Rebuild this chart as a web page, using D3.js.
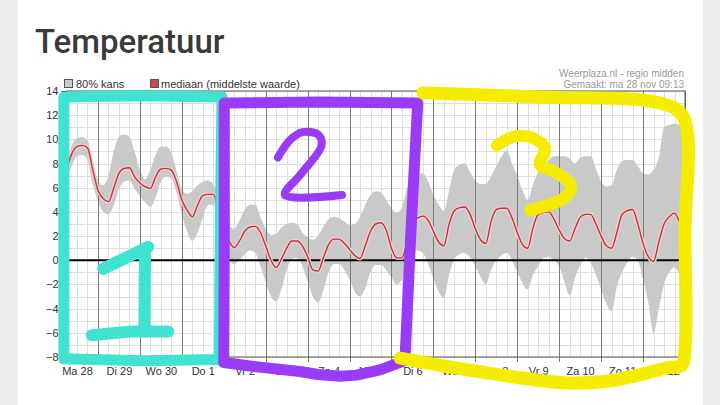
<!DOCTYPE html>
<html><head><meta charset="utf-8">
<script src="https://cdn.jsdelivr.net/npm/d3@7"></script>
<style>html,body{margin:0;padding:0;background:#fff;}svg{display:block;}</style>
</head><body>
<svg id="c" width="720" height="405"></svg>
<script>
// ---- data (hours since Ma 28 00:00, sampled every 3 h) ----
const startHour = 6, stepHours = 3, endHour = 360;
const dayLabels = ["Ma 28","Di 29","Wo 30","Do 1","Vr 2","Za 3","Zo 4","Ma 5","Di 6","Wo 7","Do 8","Vr 9","Za 10","Zo 11","Ma 12"];
const yTicks = [-8,-6,-4,-2,0,2,4,6,8,10,12,14];
const median = [
 7.4,8.8,9.4,9.5,9.3,7.5,
 5.8,5.1,4.85,5.95,7.2,7.6,7.65,6.9,
 6.4,6.1,5.95,6.9,7.55,7.6,7.45,6.5,
 5.0,4.15,3.6,4.55,5.35,5.45,5.45,4.0,
 2.6,1.6,1.05,1.6,2.4,2.75,2.8,2.3,
 1.2,0.0,-0.6,0.1,1.0,1.6,1.6,1.2,
 0.3,-0.8,-0.9,0.2,1.3,1.75,1.75,1.4,
 0.9,0.4,0.15,1.2,2.4,3.0,3.1,2.5,
 1.0,0.2,0.2,1.6,3.3,3.5,3.65,3.3,
 2.4,1.5,1.2,3.0,4.1,4.35,4.4,3.8,
 2.6,1.7,1.4,3.2,4.2,4.3,4.3,3.5,
 2.3,1.3,1.0,2.7,3.8,3.95,4.0,3.4,
 2.5,1.8,1.6,2.6,3.55,3.8,3.8,3.0,
 2.0,1.2,1.0,2.3,3.8,4.1,4.2,3.0,
 1.4,0.3,-0.1,1.5,3.0,3.6,3.9,3.1,2.1];
const upper80 = [
 8.0,9.5,10.1,10.2,9.9,8.3,
 6.6,6.2,7.0,9.0,10.2,10.4,10.2,9.0,
 7.5,6.7,7.5,8.7,9.4,9.4,8.9,7.4,
 5.9,5.5,5.7,6.2,6.5,6.6,6.3,5.3,
 3.7,2.9,2.6,3.3,4.2,4.6,4.6,3.6,
 2.6,2.1,2.2,2.7,3.0,3.1,3.0,2.3,
 1.9,1.7,2.0,2.8,3.4,3.6,3.5,3.2,
 2.9,3.0,3.6,4.6,5.4,5.7,5.6,5.0,
 4.3,3.9,4.4,6.0,6.9,7.1,7.2,6.5,
 5.4,4.6,4.1,5.8,7.5,7.9,8.0,7.3,
 6.6,6.3,6.3,7.0,7.8,8.6,9.1,8.0,
 7.0,5.8,5.0,6.3,7.3,7.8,8.3,8.6,
 8.6,8.6,8.4,8.0,8.5,8.6,8.6,7.6,
 6.5,6.1,6.2,7.5,8.2,8.3,8.3,7.8,
 7.2,7.1,7.5,8.5,11.0,11.2,11.3,11.2,11.0];
const lower80 = [
 6.6,7.8,8.6,8.7,8.3,6.3,
 4.9,4.0,3.8,4.5,5.9,6.5,6.6,5.9,
 5.3,4.8,4.4,5.2,6.5,6.9,6.8,5.6,
 3.8,2.4,1.6,2.3,3.5,4.6,4.6,3.2,
 1.0,0.0,-0.3,0.0,0.5,0.8,0.6,-0.5,
 -1.8,-3.0,-3.4,-2.4,-0.8,0.1,0.2,-0.5,
 -1.8,-3.0,-3.5,-2.5,-1.0,-0.3,-0.3,-0.8,
 -1.6,-2.6,-3.0,-2.3,-1.0,-0.4,-0.4,-0.8,
 -1.4,-2.0,-1.6,-0.5,0.9,0.8,0.6,-0.3,
 -1.5,-2.6,-3.1,-1.2,0.1,0.5,0.6,0.2,
 -0.5,-1.4,-2.0,-0.8,0.0,0.4,0.6,0.0,
 -1.0,-1.9,-2.4,-1.2,-0.5,0.2,0.3,0.0,
 -0.5,-1.8,-2.9,-1.5,-0.4,0.2,-0.2,-1.2,
 -2.4,-3.6,-4.2,-2.2,-1.0,-0.2,0.3,0.0,
 -1.6,-3.5,-6.0,-4.0,-2.0,-1.0,-0.6,-1.2,-2.0];

// hand-drawn highlighter annotations, in [hour, °C] units
const annotCyanBox = [[4.5,13.5],[50,13.6],[95,13.5],[94,2],[93.5,-8.2],[50,-8.3],[4.5,-8.15],[4.5,2]];
const annotCyanOne = [[[27,-0.7],[52.8,1.1]],[[50.9,1.0],[50.6,-5.9]],[[20.4,-6.2],[42,-5.9],[64.3,-5.9]]];
const annotPurpleBox = [[96.3,13.0],[150,13.1],[207,13.0],[203,2],[199.7,-8.3],[185.4,-9.07],[172,-9.5],[162.5,-9.6],[150,-9.45],[139.6,-9.2],[111,-8.75],[96,-8.45],[96.3,2]];
const annotPurpleTwo = [[127,8.5],[134,9.95],[141,10.6],[150,10.4],[152,9.5],[140,7.1],[131,5.4],[163.7,5.4]];
const annotYellowBox = [[210,13.85],[277,13.5],[345.6,13.0],[358.8,11.9],[360,2],[360,-7.4],[358,-8.7],[351,-8.85],[320,-9.9],[294,-10.15],[237,-9.1],[197,-8.1]];
const annotYellowThree = [[252.4,9.5],[261.5,10.2],[271.3,10.2],[279.9,9.3],[277,7.9],[285.6,7.3],[294.8,6.2],[291.3,5.2],[271.3,4.15]];

// ---- drawing ----
const svg = d3.select("#c");
const hours = median.map((_, i) => startHour + i * stepHours);
const rows = hours.map((h, i) => ({h, m: median[i], hi: upper80[i], lo: lower80[i]}));

const pLeft = 66.5, pRight = 685, pTop = 91, pBottom = 357;
const x = d3.scaleLinear().domain([startHour, endHour]).range([pLeft, pRight]);
const y = d3.scaleLinear().domain([-8, 14]).range([pBottom, pTop]);

// page background (phone screenshot card)
svg.append("rect").attr("width", 720).attr("height", 405).attr("fill", "#eeeeee");
svg.append("rect").attr("x", 18).attr("width", 685).attr("height", 405).attr("fill", "#ffffff");

svg.append("text").attr("x", 35).attr("y", 53)
  .attr("font-family", "Roboto, 'Noto Sans', sans-serif").attr("font-weight", 500)
  .attr("font-size", 33).attr("fill", "#3a3a3a").text("Temperatuur");

const font = "'Liberation Sans', Arial, sans-serif";
// legend
svg.append("rect").attr("x", 64.5).attr("y", 79.5).attr("width", 8).attr("height", 8)
  .attr("fill", "#cccccc").attr("stroke", "#555");
svg.append("text").attr("x", 76).attr("y", 87.5).attr("font-family", font).attr("font-size", 11)
  .attr("fill", "#333").text("80% kans");
svg.append("rect").attr("x", 150.5).attr("y", 79.5).attr("width", 8).attr("height", 8)
  .attr("fill", "#c0504d").attr("stroke", "#555");
svg.append("text").attr("x", 161).attr("y", 87.5).attr("font-family", font).attr("font-size", 11)
  .attr("fill", "#333").text("mediaan (middelste waarde)");
svg.append("text").attr("x", 684).attr("y", 77).attr("text-anchor", "end").attr("font-family", font)
  .attr("font-size", 10).attr("fill", "#999").text("Weerplaza.nl - regio midden");
svg.append("text").attr("x", 684).attr("y", 87.5).attr("text-anchor", "end").attr("font-family", font)
  .attr("font-size", 10).attr("fill", "#999").text("Gemaakt: ma 28 nov 09:13");

svg.append("defs").append("clipPath").attr("id", "clip")
  .append("rect").attr("x", pLeft).attr("y", pTop).attr("width", pRight - pLeft).attr("height", pBottom - pTop);

// light grid
const g = svg.append("g");
g.selectAll(".hg").data(d3.range(-8, 15, 1)).join("line")
  .attr("x1", pLeft).attr("x2", pRight).attr("y1", d => Math.round(y(d)) + 0.5).attr("y2", d => Math.round(y(d)) + 0.5)
  .attr("stroke", "#dedede");
const sixH = d3.range(startHour, endHour + 1, 6);
g.selectAll(".vg").data(sixH.filter(h => h % 24 !== 0)).join("line")
  .attr("x1", d => Math.round(x(d)) + 0.5).attr("x2", d => Math.round(x(d)) + 0.5)
  .attr("y1", pTop).attr("y2", pBottom).attr("stroke", "#dedede");

// 80% band
svg.append("g").attr("clip-path", "url(#clip)").append("path").datum(rows)
  .attr("d", d3.area().x(d => x(d.h)).y0(d => y(d.lo)).y1(d => y(d.hi)).curve(d3.curveMonotoneX))
  .attr("fill", "#c9c9c9");

// day lines (midnight)
svg.append("g").selectAll("line").data(sixH.filter(h => h % 24 === 0)).join("line")
  .attr("x1", d => Math.round(x(d)) + 0.5).attr("x2", d => Math.round(x(d)) + 0.5)
  .attr("y1", pTop).attr("y2", pBottom + 5).attr("stroke", "#7a7a7a");

// zero line
svg.append("line").attr("x1", pLeft).attr("x2", pRight).attr("y1", y(0)).attr("y2", y(0))
  .attr("stroke", "#000").attr("stroke-width", 2);

// median
const line = d3.line().x(d => x(d.h)).y(d => y(d.m)).curve(d3.curveMonotoneX);
const ml = svg.append("g").attr("clip-path", "url(#clip)");
ml.append("path").datum(rows).attr("d", line).attr("fill", "none").attr("stroke", "#f6cccc").attr("stroke-width", 4);
ml.append("path").datum(rows).attr("d", line).attr("fill", "none").attr("stroke", "#b23a44").attr("stroke-width", 1.4);

// frame
svg.append("rect").attr("x", pLeft).attr("y", pTop).attr("width", pRight - pLeft).attr("height", pBottom - pTop)
  .attr("fill", "none").attr("stroke", "#555");
svg.append("line").attr("x1", pLeft).attr("x2", pLeft).attr("y1", pTop).attr("y2", pBottom).attr("stroke", "#222");

// y axis
const ya = svg.append("g").attr("transform", `translate(${pLeft},0)`)
  .call(d3.axisLeft(y).tickValues(yTicks).tickSize(5).tickPadding(3));
ya.select(".domain").remove();
ya.selectAll("line").attr("stroke", "#333");
ya.selectAll("text").attr("font-family", font).attr("font-size", 11).attr("fill", "#333");

// x labels at noon
const xa = svg.append("g").attr("transform", `translate(0,${pBottom})`)
  .call(d3.axisBottom(x).tickValues(dayLabels.map((_, i) => i * 24 + 12)).tickFormat((d, i) => dayLabels[i]).tickSize(0).tickPadding(10));
xa.select(".domain").remove();
xa.selectAll("text").attr("font-family", font).attr("font-size", 11).attr("fill", "#333");

// highlighter annotations
const al = d3.line().x(d => x(d[0])).y(d => y(d[1]));
const alc = d3.line().x(d => x(d[0])).y(d => y(d[1])).curve(d3.curveCatmullRom);
function stroke(pts, color, w, closed, curved) {
  svg.append("path").attr("d", (curved ? alc : al)(pts) + (closed ? "Z" : ""))
    .attr("fill", "none").attr("stroke", color).attr("stroke-width", w)
    .attr("stroke-linejoin", "round").attr("stroke-linecap", "round");
}
const cyan = "#3fe3cf", purple = "#9a3cf7", yellow = "#f6ec00";
stroke(annotCyanBox, cyan, 11, true, false);
annotCyanOne.forEach(p => stroke(p, cyan, 12, false, false));
stroke(annotPurpleBox, purple, 11, true, false);
stroke(annotPurpleTwo, purple, 8, false, true);
stroke(annotYellowBox, yellow, 13, false, true);
stroke(annotYellowThree, yellow, 12, false, true);
</script>
</body></html>
